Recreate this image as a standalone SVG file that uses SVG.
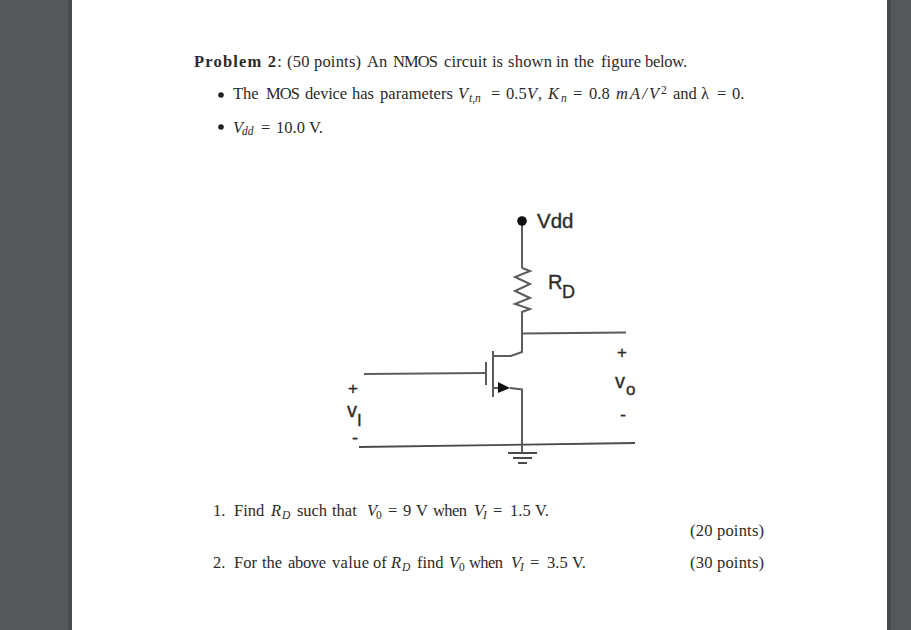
<svg xmlns="http://www.w3.org/2000/svg" width="911" height="630" viewBox="0 0 911 630">
<style>
.t{font-family:"Liberation Serif","DejaVu Serif",serif;font-size:16.5px;fill:#2a2a2a}
.b{font-weight:bold}
.i{font-style:italic}
.s{font-size:11.500px}
.f{font-family:"Liberation Sans",Arial,sans-serif;fill:#2c2c2c;stroke:#2c2c2c;stroke-width:.35}
.w{fill:none;stroke:#5c5c5c;stroke-width:2}
.k{fill:none;stroke:#4a4a4a;stroke-width:1.800}
</style>
<rect width="911" height="630" fill="#53585a"/>
<rect x="68" width="4" height="630" fill="#474b4d"/>
<rect x="887" width="4" height="630" fill="#474b4d"/>
<rect x="72" width="815" height="630" fill="#fff"/>
<g id="text">
<text class="t" x="194" y="67"><tspan class="b" textLength="82">Problem 2</tspan>: <tspan x="287" textLength="74">(50 points)</tspan> <tspan x="367">An</tspan> <tspan x="393" textLength="45">NMOS</tspan> <tspan x="444" textLength="43">circuit</tspan> <tspan x="492">is</tspan> <tspan x="508" textLength="44">shown</tspan> <tspan x="556">in</tspan> <tspan x="574">the</tspan> <tspan x="601" textLength="40">figure</tspan> <tspan x="645" textLength="42">below.</tspan></text>
<circle cx="221" cy="95" r="2.800" fill="#222"/>
<text class="t" x="233" y="99"><tspan>The</tspan> <tspan x="266" textLength="34">MOS</tspan> <tspan x="305" textLength="42">device</tspan> <tspan x="352">has</tspan> <tspan x="380" textLength="73">parameters</tspan> <tspan class="i" x="458">V</tspan><tspan class="i s" x="469" dy="3">t,n</tspan><tspan x="491" dy="-3">=</tspan> <tspan x="506">0.5</tspan><tspan class="i" x="527">V</tspan><tspan x="538">,</tspan> <tspan class="i" x="548">K</tspan><tspan class="i s" x="561" dy="3">n</tspan><tspan x="573" dy="-3">=</tspan> <tspan x="589">0.8</tspan> <tspan class="i" x="616" textLength="43">mA/V</tspan><tspan class="s" x="661" dy="-5">2</tspan><tspan x="673" dy="5">and</tspan> <tspan x="701">λ</tspan> <tspan x="717">=</tspan> <tspan x="732">0.</tspan></text>
<circle cx="221" cy="127" r="2.800" fill="#222"/>
<text class="t" x="233" y="133"><tspan class="i">V</tspan><tspan class="i s" x="242" dy="2">dd</tspan><tspan x="261" dy="-2">=</tspan> <tspan x="276">10.0</tspan> <tspan x="309">V.</tspan></text>
<text class="t" x="213" y="516">1. <tspan x="234">Find</tspan> <tspan class="i" x="271">R</tspan><tspan class="i s" x="282" dy="3">D</tspan><tspan x="297" dy="-3" textLength="30">such</tspan> <tspan x="332">that</tspan> <tspan class="i" x="367">V</tspan><tspan class="s" x="376" dy="3">0</tspan><tspan x="388" dy="-3">=</tspan> <tspan x="403">9</tspan> <tspan x="416">V</tspan> <tspan x="433" textLength="34">when</tspan> <tspan class="i" x="474">V</tspan><tspan class="i s" x="483" dy="3">I</tspan><tspan x="493" dy="-3">=</tspan> <tspan x="510">1.5</tspan> <tspan x="535">V.</tspan></text>
<text class="t" x="690" y="536" textLength="74">(20 points)</text>
<text class="t" x="213" y="568">2. <tspan x="234">For</tspan> <tspan x="262">the</tspan> <tspan x="288" textLength="38">above</tspan> <tspan x="332" textLength="37">value</tspan> <tspan x="373">of</tspan> <tspan class="i" x="391">R</tspan><tspan class="i s" x="402" dy="3">D</tspan><tspan x="417" dy="-3">find</tspan> <tspan class="i" x="449">V</tspan><tspan class="s" x="459" dy="3">0</tspan><tspan x="469" dy="-3" textLength="34">when</tspan> <tspan class="i" x="511">V</tspan><tspan class="i s" x="520" dy="3">I</tspan><tspan x="530" dy="-3">=</tspan> <tspan x="547">3.5</tspan> <tspan x="572">V.</tspan></text>
<text class="t" x="690" y="568" textLength="74">(30 points)</text>
</g>
<g id="connectors">
<path class="w" d="M522 222V268M522 311V352L511 356H493"/>
<path class="w" d="M522 333.500L626 332.500"/>
<path class="w" d="M364 374L486 373"/>
<path class="w" d="M493 388H508M510 388L522 389.500V446"/>
<path class="k" d="M359 447L635 443"/>
</g>
<g id="vdd"><circle cx="522" cy="221" r="4.800" fill="#111"/><text class="f" x="537" y="228" font-size="20.500">Vdd</text></g>
<g id="rd"><path class="w" d="M522 268L530 271L515 277L530 284L515 291L530 298L515 304L530 309L522 312"/><text class="f" x="548" y="289" font-size="20">R</text><text class="f" x="562" y="298" font-size="18">D</text></g>
<g id="mosfet">
<path class="w" d="M486 362V385M493 351V397"/>
<path d="M498 382L510 388L498 393Z" fill="#111"/>
</g>
<g id="ground"><path class="k" d="M508 453H537M513 458H532M518 463H527"/><path class="w" d="M522 444V453"/></g>
<g id="vi"><text class="f" x="353" y="394" font-size="17" text-anchor="middle">+</text><text class="f" x="347" y="417" font-size="20">v</text><text class="f" x="357" y="426" font-size="17">I</text><text class="f" x="355" y="444" font-size="18" text-anchor="middle">-</text></g>
<g id="vo"><text class="f" x="622" y="358" font-size="17" text-anchor="middle">+</text><text class="f" x="615" y="388" font-size="20">v</text><text class="f" x="626" y="395" font-size="17">o</text><text class="f" x="623" y="421" font-size="18" text-anchor="middle">-</text></g>
</svg>
